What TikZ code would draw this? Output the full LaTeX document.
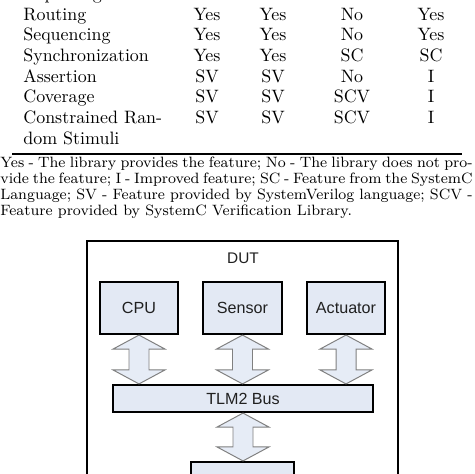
\documentclass[tikz,border=0pt]{standalone}
\usepackage{fontspec}
\newfontfamily\diagfont{Liberation Sans}
\usetikzlibrary{calc}
\definecolor{boxfill}{HTML}{E3E9F4}
\definecolor{arrfill}{HTML}{E6ECF6}
\definecolor{arredge}{HTML}{808080}
\definecolor{diagtext}{HTML}{202020}
\def\pxu{0.558pt}
\newcommand\dblarrow[2]{%
  \draw[arrowshape] (#1) -- ++(26,14) -- ++(-16,0) -- ($(#2)+(10,-14)$) -- ++(16,0)
    -- (#2) -- ++(-26,-14) -- ++(16,0) -- ($(#1)+(-10,14)$) -- ++(-16,0) -- cycle;}
\begin{document}
\begin{tikzpicture}[x=0.558pt,y=-0.558pt,
  cell/.style={font=\fontsize{10}{12}\selectfont, inner sep=0pt, anchor=base},
  rowlabel/.style={cell, anchor=base west},
  note/.style={font=\fontsize{8.35}{10}\selectfont, inner sep=0pt, anchor=base west},
  blk/.style={draw=black, line width=1.2pt, fill=boxfill, font=\diagfont\fontsize{9}{11}\selectfont, text=diagtext, inner sep=0pt},
  dutbox/.style={draw=black, line width=1.2pt, fill=white},
  arrowshape/.style={draw=arredge, line width=0.55pt, fill=arrfill, line join=miter}]
\useasboundingbox (0,0) rectangle (474,474);
\clip (0,0) rectangle (474,474);
% table
\node[rowlabel] (r0) at (23,-0.5) {Reporting};
\foreach \lab/\a/\b/\c/\d [count=\i] in {Routing/Yes/Yes/No/Yes, Sequencing/Yes/Yes/No/Yes, Synchronization/Yes/Yes/SC/SC, Assertion/SV/SV/No/I, Coverage/SV/SV/SCV/I, Constrained Ran-/SV/SV/SCV/I}{
  \pgfmathsetmacro\yy{-0.5+20.7*\i}
  \node[rowlabel] (r\i) at (23,\yy) {\lab};
  \node[cell] (ca\i) at (207,\yy) {\a};
  \node[cell] (cb\i) at (273,\yy) {\b};
  \node[cell] (cc\i) at (352,\yy) {\c};
  \node[cell] (cd\i) at (431,\yy) {\d};
}
\node[rowlabel] (r7) at (23,144.4) {dom Stimuli};
\coordinate (ruleL) at (12,154);
\coordinate (ruleR) at (462,154);
\draw[line width=0.8pt] (ruleL) -- (ruleR);
\node[note] (n1) at (0,168) {\makebox[263.5pt][s]{Yes - The library provides the feature; No - The library does not pro-}};
\node[note] (n2) at (0,183.7) {\makebox[263.5pt][s]{vide the feature; I - Improved feature; SC - Feature from the SystemC}};
\node[note] (n3) at (0,199.4) {\makebox[263.5pt][s]{Language; SV - Feature provided by SystemVerilog language; SCV -}};
\node[note] (n4) at (0,215.1) {Feature provided by SystemC Verification Library.};
% diagram
\draw[dutbox] (87,241) rectangle (398,540);
\node[font=\diagfont\fontsize{8.6}{10}\selectfont, text=diagtext, inner sep=0pt] (dut) at (243,258) {DUT};
\node[blk, minimum width=78*\pxu, minimum height=52*\pxu] (cpu) at (139,308) {CPU};
\node[blk, minimum width=79*\pxu, minimum height=52*\pxu] (sensor) at (242.5,308) {Sensor};
\node[blk, minimum width=78*\pxu, minimum height=52*\pxu] (act) at (346,308) {Actuator};
\node[blk, minimum width=260*\pxu, minimum height=27*\pxu] (bus) at (243,398.5) {TLM2 Bus};
\node[blk, minimum width=103*\pxu, minimum height=52*\pxu] (bot) at (242.5,488) {};
\dblarrow{cpu.south}{cpu.south |- bus.north}
\dblarrow{sensor.south}{sensor.south |- bus.north}
\dblarrow{act.south}{act.south |- bus.north}
\dblarrow{bus.south}{bus.south |- bot.north}
\end{tikzpicture}
\end{document}
